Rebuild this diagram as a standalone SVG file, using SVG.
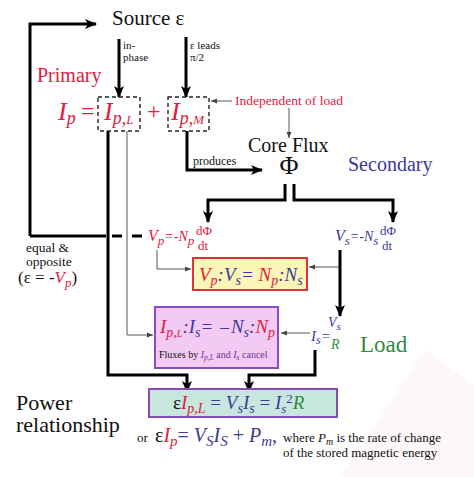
<svg xmlns="http://www.w3.org/2000/svg" width="474" height="477" viewBox="0 0 474 477" font-family="'Liberation Serif','Times New Roman',serif">
<style>
text{font-family:"Liberation Serif","Times New Roman",serif;fill:#111}
.it{font-style:italic}
.r{fill:#e0203c}
.b{fill:#3a3a98}
.g{fill:#2e8b3e}
.thick{stroke:#000;stroke-width:3;fill:none}
.thin{stroke:#555;stroke-width:1;fill:none}
.dash{stroke:#222;stroke-width:1.4;fill:none;stroke-dasharray:4 3}
</style>
<defs>
<marker id="ah" markerUnits="userSpaceOnUse" markerWidth="12" markerHeight="12" viewBox="0 0 12 12" refX="11" refY="6" orient="auto">
<path d="M0,1 L12,6 L0,11 L3,6 Z" fill="#000"/>
</marker>
<marker id="as" markerUnits="userSpaceOnUse" markerWidth="6" markerHeight="6" viewBox="0 0 6 6" refX="6" refY="3" orient="auto">
<path d="M0,0.5 L6,3 L0,5.5 Z" fill="#444"/>
</marker>
</defs>
<rect width="474" height="477" fill="#fff"/>
<polygon points="340,477 425,350 474,385 474,477" fill="#fef7f9"/>

<g id="connectors">
<path class="thick" d="M30,236 V24 H96" marker-end="url(#ah)"/>
<path class="thick" d="M30,236 H106"/>
<path d="M112,236 H146" stroke="#000" stroke-width="3" stroke-dasharray="10 10"/>
<path class="thick" d="M119,39 V97" marker-end="url(#ah)"/>
<path class="thick" d="M186,37 V97" marker-end="url(#ah)"/>
<path class="thin" d="M232,101 H211" marker-end="url(#as)"/>
<path class="thin" d="M289,108 V138" marker-end="url(#as)"/>
<path class="thick" d="M187,131 V170 H262" marker-end="url(#ah)"/>
<path class="thick" d="M285,184 V200 H208 V222" marker-end="url(#ah)"/>
<path class="thick" d="M294,184 V200 H393 V222" marker-end="url(#ah)"/>
<path class="thin" d="M157,250 V269 H191" marker-end="url(#as)"/>
<path class="thin" d="M340,267 H309" marker-end="url(#as)"/>
<path class="thick" d="M340,250 V316" marker-end="url(#ah)"/>
<path class="thin" d="M127,131 V335 H153" marker-end="url(#as)"/>
<path class="thin" d="M310,333 H281" marker-end="url(#as)"/>
<path class="thin" d="M224,350 V329" marker-end="url(#as)"/>
<path class="thick" d="M108,131 V375 H187 V392" marker-end="url(#ah)"/>
<path class="thick" d="M315,350 V375 H249 V392" marker-end="url(#ah)"/>
</g>

<g id="source">
<text x="112" y="25" font-size="21">Source ε</text>
<text x="123" y="49" font-size="11">in-</text>
<text x="123" y="61" font-size="11">phase</text>
<text x="190" y="49" font-size="11">ε leads</text>
<text x="190" y="61" font-size="11">π/2</text>
</g>

<g id="primary">
<text x="37" y="82" font-size="20" class="r">Primary</text>
<text x="58" y="120" font-size="26" class="it r">I<tspan font-size="18" dy="4">p</tspan></text>
<text x="81" y="119" font-size="24" class="r">=</text>
<text x="147" y="119" font-size="24" class="r">+</text>
</g>

<g id="node-IpL">
<rect class="dash" x="98" y="97" width="42" height="34"/>
<text x="104" y="120" font-size="26" class="it r">I<tspan font-size="18" dy="4">p,</tspan><tspan font-size="13">L</tspan></text>
</g>

<g id="node-IpM">
<rect class="dash" x="168" y="97" width="41" height="34"/>
<text x="171" y="120" font-size="26" class="it r">I<tspan font-size="18" dy="4">p,</tspan><tspan font-size="13">M</tspan></text>
</g>

<g id="independent">
<text x="235" y="105" font-size="13.5" class="r">Independent of load</text>
</g>

<g id="core-flux">
<text x="248" y="152" font-size="20">Core Flux</text>
<text x="289" y="174" font-size="26" text-anchor="middle">Φ</text>
<text x="193" y="165" font-size="12">produces</text>
</g>

<g id="secondary">
<text x="348" y="171" font-size="20" class="b">Secondary</text>
</g>

<g id="node-Vp">
<text x="148" y="241" font-size="16" class="it r">V<tspan font-size="13" dy="4">p</tspan><tspan font-size="14" dy="-4">=-N</tspan><tspan font-size="13" dy="4">p</tspan></text>
<text x="196" y="235" font-size="13" class="r">dΦ</text>
<text x="198" y="250" font-size="13" class="r">dt</text>
</g>

<g id="node-Vs">
<text x="335" y="241" font-size="16" class="it b">V<tspan font-size="13" dy="4">s</tspan><tspan font-size="14" dy="-4">=-N</tspan><tspan font-size="13" dy="4">s</tspan></text>
<text x="380" y="235" font-size="13" class="b">dΦ</text>
<text x="382" y="250" font-size="13" class="b">dt</text>
</g>

<g id="node-ratio-V">
<rect x="193" y="258" width="114" height="32" fill="#fbf5b6" stroke="#e0303a" stroke-width="2"/>
<text x="199" y="281" font-size="19" class="it"><tspan class="r">V</tspan><tspan class="r" font-size="14" dy="4">p</tspan><tspan class="b" dy="-4">:V</tspan><tspan class="b" font-size="14" dy="4">s</tspan><tspan class="b" dy="-4">= </tspan><tspan class="r">N</tspan><tspan class="r" font-size="14" dy="4">p</tspan><tspan class="b" dy="-4">:N</tspan><tspan class="b" font-size="14" dy="4">s</tspan></text>
</g>

<g id="node-Is">
<text x="311" y="341" font-size="15" class="it b">I<tspan font-size="12" dy="3">s</tspan><tspan dy="-3">=</tspan></text>
<text x="328" y="327" font-size="14" class="it b">V<tspan font-size="11" dy="3">s</tspan></text>
<text x="331" y="349" font-size="14" class="it g">R</text>
<text x="360" y="352" font-size="23" class="g">Load</text>
</g>

<g id="node-ratio-I">
<rect x="155" y="307" width="123" height="61" fill="#f3caf3" stroke="#8a4bc8" stroke-width="2"/>
<text x="160" y="333" font-size="19" class="it"><tspan class="r">I</tspan><tspan class="r" font-size="14" dy="4">p,</tspan><tspan class="r" font-size="10">L</tspan><tspan class="b" dy="-4">:I</tspan><tspan class="b" font-size="14" dy="4">s</tspan><tspan class="b" dy="-4">= </tspan><tspan class="b" dy="2">−</tspan><tspan class="b" dy="-2">N</tspan><tspan class="b" font-size="14" dy="4">s</tspan><tspan class="b" dy="-4">:</tspan><tspan class="r">N</tspan><tspan class="r" font-size="14" dy="4">p</tspan></text>
<text x="159" y="358" font-size="10" fill="#7a2a9a">Fluxes by <tspan class="it" fill="#7a2a9a">I</tspan><tspan class="it" font-size="7.5" dy="2" fill="#7a2a9a">p,L</tspan><tspan dy="-2" fill="#7a2a9a"> and </tspan><tspan class="it" fill="#7a2a9a">I</tspan><tspan class="it" font-size="7.5" dy="2" fill="#7a2a9a">s</tspan><tspan dy="-2" fill="#7a2a9a"> cancel</tspan></text>
</g>

<g id="equal-opposite">
<text x="26" y="252" font-size="13.5">equal &amp;</text>
<text x="26" y="266" font-size="13.5">opposite</text>
<text x="18" y="283" font-size="17">(ε = -<tspan class="it r">V</tspan><tspan class="it r" font-size="13" dy="4">p</tspan><tspan dy="-4">)</tspan></text>
</g>

<g id="node-power">
<rect x="149" y="389" width="188" height="28" fill="#c6e6de" stroke="#8a4bb0" stroke-width="2"/>
<text x="173" y="409" font-size="19">ε<tspan class="it r">I</tspan><tspan class="it r" font-size="14" dy="4">p,L</tspan><tspan class="b" dy="-4"> = </tspan><tspan class="it b">V</tspan><tspan class="it b" font-size="14" dy="4">s</tspan><tspan class="it b" dy="-4">I</tspan><tspan class="it b" font-size="14" dy="4">s</tspan><tspan class="b" dy="-4"> = </tspan><tspan class="it b">I</tspan><tspan class="it b" font-size="13" dy="4">s</tspan><tspan class="b" font-size="13" dy="-10">2</tspan><tspan class="it g" dy="6">R</tspan></text>
</g>

<g id="power-label">
<text x="16" y="410" font-size="22">Power</text>
<text x="16" y="432" font-size="22">relationship</text>
<text x="137" y="442" font-size="13">or</text>
<text x="155" y="442" font-size="20">ε<tspan class="it r">I</tspan><tspan class="it r" font-size="15" dy="4">p</tspan><tspan class="b" dy="-4">= </tspan><tspan class="it b">V</tspan><tspan class="it b" font-size="15" dy="4">S</tspan><tspan class="it b" dy="-4">I</tspan><tspan class="it b" font-size="15" dy="4">S</tspan><tspan class="b" dy="-4"> + </tspan><tspan class="it b">P</tspan><tspan class="it b" font-size="15" dy="4">m</tspan><tspan class="b" dy="-4">,</tspan></text>
<text x="283" y="442" font-size="13">where <tspan class="it">P</tspan><tspan class="it" font-size="10" dy="3">m</tspan><tspan dy="-3"> is the rate of change</tspan></text>
<text x="283" y="457" font-size="13">of the stored magnetic energy</text>
</g>
</svg>
